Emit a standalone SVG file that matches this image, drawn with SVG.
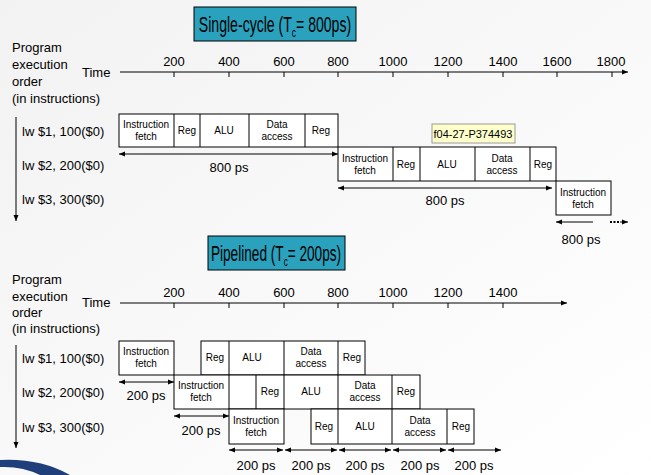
<svg xmlns="http://www.w3.org/2000/svg" width="651" height="475" viewBox="0 0 651 475">
<defs>
<linearGradient id="bg" x1="0" y1="0" x2="1" y2="1"><stop offset="0" stop-color="#f2f2f2"/><stop offset="1" stop-color="#ffffff"/></linearGradient>
<marker id="ah" markerWidth="6" markerHeight="6" refX="6" refY="3" orient="auto-start-reverse" markerUnits="userSpaceOnUse"><path d="M0,0.5 L6,3 L0,5.5 Z" fill="#000"/></marker>
</defs>
<style>
text{font-family:"Liberation Sans",Arial,sans-serif;fill:#000}
.t{font-size:13px}
.s{font-size:10px;text-anchor:middle}
.m{font-size:13px;text-anchor:middle}
.b{fill:#fff;stroke:#000;stroke-width:1}
.l{stroke:#000;stroke-width:1;fill:none}
.ttl{fill:#2AA2BE;stroke:#000;stroke-width:1}
</style>
<rect width="651" height="475" fill="url(#bg)"/>
<path d="M0,460 Q40,458 70,475 L40,475 Q22,466 0,467 Z" fill="#1F3F7A"/>

<g id="title1"><rect class="ttl" x="194" y="7" width="162" height="34"/><text transform="translate(275,32) scale(0.64,1)" font-size="22" text-anchor="middle">Single-cycle (T<tspan font-size="13" dy="5">c</tspan><tspan dy="-5">= 800ps)</tspan></text></g>
<g id="title2"><rect class="ttl" x="208" y="236" width="137" height="34"/><text transform="translate(276,261) scale(0.62,1)" font-size="22" text-anchor="middle">Pipelined (T<tspan font-size="13" dy="5">c</tspan><tspan dy="-5">= 200ps)</tspan></text></g>

<g id="labels1" class="t">
<text x="12" y="52">Program</text><text x="12" y="69">execution</text><text x="12" y="86">order</text><text x="12" y="103">(in instructions)</text>
<text x="82" y="77">Time</text>
<text x="22" y="136">lw  $1, 100($0)</text><text x="22" y="170">lw  $2, 200($0)</text><text x="22" y="204">lw  $3, 300($0)</text>
</g>
<g id="axis1">
<line class="l" x1="120" y1="72" x2="628" y2="72" marker-end="url(#ah)"/>
<g class="l"><path d="M174,72v5M229,72v5M284,72v5M338,72v5M393,72v5M448,72v5M503,72v5M557,72v5M612,72v5"/></g>
<g class="m"><text x="174" y="66">200</text><text x="229" y="66">400</text><text x="284" y="66">600</text><text x="338" y="66">800</text><text x="393" y="66">1000</text><text x="448" y="66">1200</text><text x="503" y="66">1400</text><text x="557" y="66">1600</text><text x="611" y="66">1800</text></g>
</g>

<g id="sc-row1"><rect class="b" x="119" y="114" width="219" height="33"/><path class="l" d="M174,114v33M200,114v33M249,114v33M305,114v33"/>
<g class="s"><text x="146" y="128">Instruction</text><text x="146" y="140">fetch</text><text x="187" y="134">Reg</text><text x="224" y="134">ALU</text><text x="277" y="128">Data</text><text x="277" y="140">access</text><text x="321" y="134">Reg</text></g></g>
<g id="sc-row2"><rect class="b" x="338" y="147" width="218" height="34"/><path class="l" d="M393,147v34M420,147v34M475,147v34M530,147v34"/>
<g class="s"><text x="365" y="162">Instruction</text><text x="365" y="174">fetch</text><text x="406" y="168">Reg</text><text x="447" y="168">ALU</text><text x="502" y="162">Data</text><text x="502" y="174">access</text><text x="543" y="168">Reg</text></g></g>
<g id="sc-row3"><rect class="b" x="556" y="181" width="55" height="34"/>
<g class="s"><text x="583" y="196">Instruction</text><text x="583" y="208">fetch</text></g></g>
<g id="tip"><rect x="432" y="124" width="83" height="19" fill="#FFFFCC" stroke="#999"/><text x="473" y="138" font-size="11" text-anchor="middle" font-family="Liberation Sans">f04-27-P374493</text></g>

<g id="connectors1">
<line class="l" x1="119" y1="154" x2="338" y2="154" marker-start="url(#ah)" marker-end="url(#ah)"/>
<line class="l" x1="338" y1="188" x2="552" y2="188" marker-start="url(#ah)" marker-end="url(#ah)"/>
<line class="l" x1="556" y1="222" x2="593" y2="222" marker-start="url(#ah)"/>
<line x1="610" y1="222" x2="619" y2="222" stroke="#000" stroke-width="2" stroke-dasharray="2,1.5"/>
<line class="l" x1="620" y1="222" x2="628" y2="222" marker-end="url(#ah)"/>
<line class="l" x1="16" y1="117" x2="16" y2="221" marker-end="url(#ah)"/>
</g>
<g class="m"><text x="229" y="172">800 ps</text><text x="445" y="205">800 ps</text><text x="581" y="244">800 ps</text></g>

<g id="labels2" class="t">
<text x="12" y="284">Program</text><text x="12" y="301">execution</text><text x="12" y="317">order</text><text x="12" y="333">(in instructions)</text>
<text x="82" y="307">Time</text>
<text x="22" y="363">lw  $1, 100($0)</text><text x="22" y="397">lw  $2, 200($0)</text><text x="22" y="432">lw  $3, 300($0)</text>
</g>
<g id="axis2">
<line class="l" x1="120" y1="303" x2="567" y2="303" marker-end="url(#ah)"/>
<g class="l"><path d="M174,303v5M229,303v5M284,303v5M338,303v5M393,303v5M448,303v5M503,303v5"/></g>
<g class="m"><text x="174" y="297">200</text><text x="229" y="297">400</text><text x="284" y="297">600</text><text x="338" y="297">800</text><text x="393" y="297">1000</text><text x="448" y="297">1200</text><text x="503" y="297">1400</text></g>
</g>

<g id="p-row1"><rect class="b" x="119" y="341" width="55" height="34"/><rect class="b" x="201" y="341" width="164" height="34"/><path class="l" d="M229,341v34M284,341v34M338,341v34"/>
<g class="s"><text x="146" y="355">Instruction</text><text x="146" y="367">fetch</text><text x="215" y="361">Reg</text><text x="252" y="361">ALU</text><text x="311" y="355">Data</text><text x="311" y="367">access</text><text x="352" y="361">Reg</text></g></g>
<g id="p-row2"><rect class="b" x="174" y="375" width="246" height="34"/><path class="l" d="M229,375v34M256,375v34M284,375v34M338,375v34M392,375v34"/>
<g class="s"><text x="201" y="389">Instruction</text><text x="201" y="401">fetch</text><text x="270" y="395">Reg</text><text x="311" y="395">ALU</text><text x="365" y="389">Data</text><text x="365" y="401">access</text><text x="406" y="395">Reg</text></g></g>
<g id="p-row3"><rect class="b" x="229" y="409" width="55" height="35"/><rect class="b" x="311" y="409" width="163" height="35"/><path class="l" d="M338,409v35M392,409v35M447,409v35"/>
<g class="s"><text x="256" y="424">Instruction</text><text x="256" y="436">fetch</text><text x="324" y="430">Reg</text><text x="365" y="430">ALU</text><text x="420" y="424">Data</text><text x="420" y="436">access</text><text x="461" y="430">Reg</text></g></g>

<g id="connectors2">
<line class="l" x1="119" y1="382" x2="174" y2="382" marker-start="url(#ah)" marker-end="url(#ah)"/>
<line class="l" x1="174" y1="416" x2="229" y2="416" marker-start="url(#ah)" marker-end="url(#ah)"/>
<line class="l" x1="229" y1="450" x2="283" y2="450" marker-start="url(#ah)" marker-end="url(#ah)"/>
<line class="l" x1="285" y1="450" x2="337" y2="450" marker-start="url(#ah)" marker-end="url(#ah)"/>
<line class="l" x1="339" y1="450" x2="391" y2="450" marker-start="url(#ah)" marker-end="url(#ah)"/>
<line class="l" x1="393" y1="450" x2="446" y2="450" marker-start="url(#ah)" marker-end="url(#ah)"/>
<line class="l" x1="448" y1="450" x2="501" y2="450" marker-start="url(#ah)" marker-end="url(#ah)"/>
<line class="l" x1="16" y1="345" x2="16" y2="448" marker-end="url(#ah)"/>
</g>
<g class="m"><text x="146" y="400">200 ps</text><text x="201" y="435">200 ps</text><text x="256" y="470">200 ps</text><text x="311" y="470">200 ps</text><text x="365" y="470">200 ps</text><text x="420" y="470">200 ps</text><text x="474" y="470">200 ps</text></g>
</svg>
